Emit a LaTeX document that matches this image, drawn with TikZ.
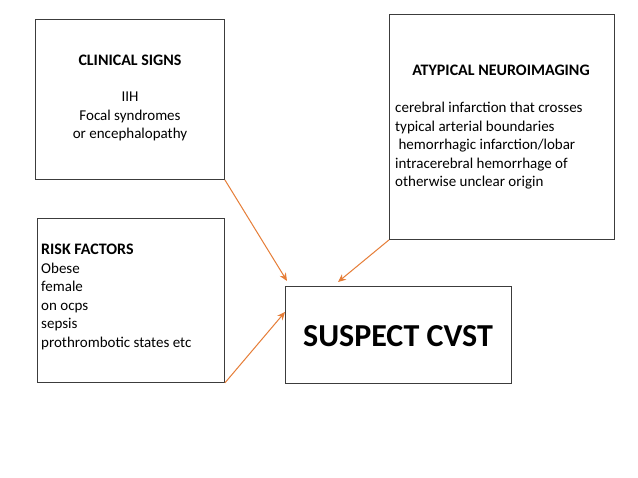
\documentclass[tikz,border=0pt]{standalone}
\usepackage{fontspec}
\setmainfont{Carlito}
\usetikzlibrary{arrows.meta}
\definecolor{arr}{RGB}{230,125,55}
\definecolor{bx}{RGB}{60,60,60}
\begin{document}
\begin{tikzpicture}[x=1pt,y=-1pt,
  box/.style={draw=bx,line width=0.9pt},
  txt/.style={font=\fontsize{15}{18.5}\selectfont,inner sep=0pt},
  ttl/.style={font=\fontsize{16}{18.5}\selectfont\bfseries,inner sep=0pt},
  conn/.style={draw=arr,line width=1pt,-{Stealth[length=8pt,width=7pt]}}]
\useasboundingbox (0,0) rectangle (638,478);
\path[fill=white] (0,0) rectangle (638,478);
\node[box,minimum width=189pt,minimum height=160pt,anchor=north west] (cs) at (35,19) {};
\node[box,minimum width=225pt,minimum height=225pt,anchor=north west] (ai) at (389,14) {};
\node[box,minimum width=187pt,minimum height=164pt,anchor=north west] (rf) at (37,218) {};
\node[box,minimum width=226pt,minimum height=97pt,anchor=north west] (sc) at (285,286) {};
\node[ttl] (cst) at (130,60) {CLINICAL SIGNS};
\node[txt,align=center,anchor=north] (csb) at (130,92) {IIH\\Focal syndromes\\or encephalopathy};
\node[ttl] (ait) at (501,70) {ATYPICAL NEUROIMAGING};
\node[txt,align=left,anchor=north west] (aib) at (395,102) {cerebral infarction that crosses\\typical arterial boundaries\\\ hemorrhagic infarction/lobar\\intracerebral hemorrhage of\\otherwise unclear origin};
\node[txt,align=left,anchor=north west] (rfb) at (41,244) {{\fontsize{16}{18.5}\selectfont\bfseries RISK FACTORS}\\Obese\\female\\on ocps\\sepsis\\prothrombotic states etc};
\node[inner sep=0pt,font=\fontsize{32}{34}\selectfont\bfseries] (sct) at (398,336) {SUSPECT CVST};
\draw[conn] (cs.south east) -- (287,281);
\draw[conn] (ai.south west) -- (338,282);
\draw[conn] (rf.south east) -- (285,312);
\end{tikzpicture}
\end{document}
